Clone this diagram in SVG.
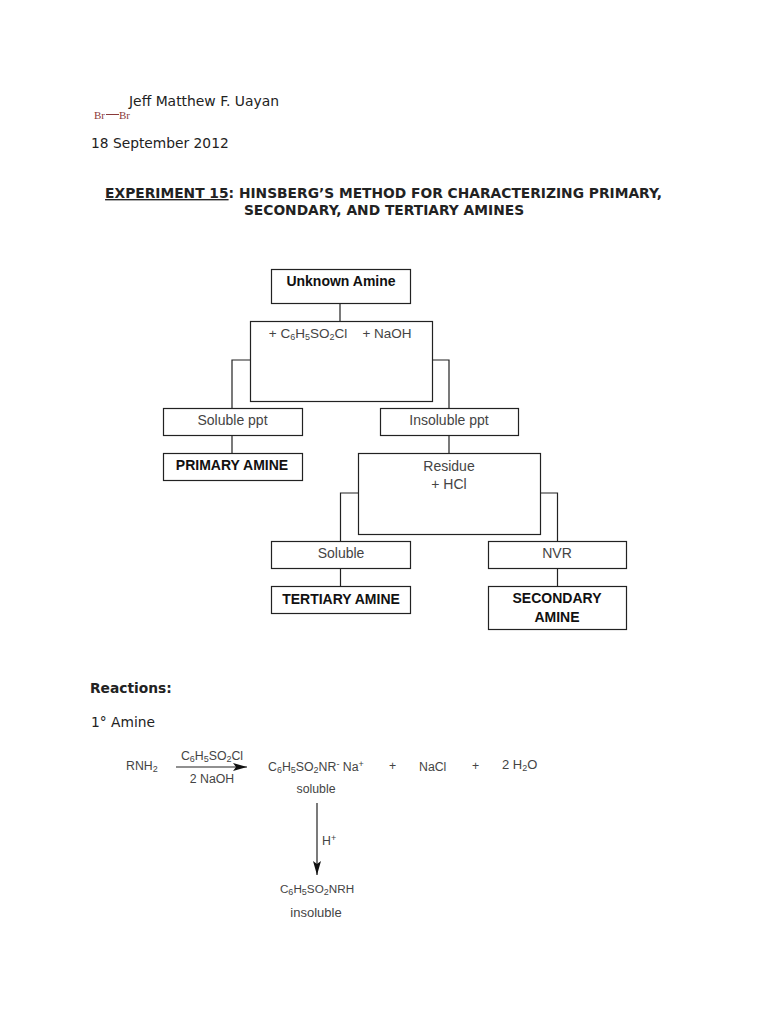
<svg xmlns="http://www.w3.org/2000/svg" width="768" height="1024" viewBox="0 0 768 1024">
<style>
.doc{font-family:"DejaVu Sans",sans-serif;font-size:13.800px;fill:#222}
.name{font-size:13.900px}
.title{font-family:"DejaVu Sans",sans-serif;font-size:13.800px;font-weight:bold;fill:#222;text-anchor:middle}
.box{fill:#fff;stroke:#222;stroke-width:1.2}
.lbl{font-family:"Liberation Sans",Arial,sans-serif;font-size:14px;fill:#444;text-anchor:middle}
.rg{font-size:13.500px}
.bld{font-family:"Liberation Sans",Arial,sans-serif;font-size:14px;font-weight:bold;fill:#111;text-anchor:middle}
.chem{font-family:"Liberation Sans",Arial,sans-serif;font-size:12.300px;fill:#444}
.sm{font-size:11.700px}
.big{font-size:13px}
.mid{text-anchor:middle}
.conn{fill:none;stroke:#222;stroke-width:1.2}
</style>
<defs>
<marker id="ah" markerUnits="userSpaceOnUse" markerWidth="15" markerHeight="10" refX="14" refY="5" orient="auto"><path d="M0 1L14 5L0 9L3 5Z" fill="#111"/></marker>
</defs>
<rect width="768" height="1024" fill="#fff"/>
<text class="doc name" x="129" y="106">Jeff Matthew F. Uayan</text>
<text x="94" y="119" font-family="Liberation Serif,serif" font-size="11" fill="#8b3a3a">Br</text>
<path d="M106 114.500H119" stroke="#8b3a3a" stroke-width="1"/>
<text x="119" y="119" font-family="Liberation Serif,serif" font-size="11" fill="#8b3a3a">Br</text>
<text class="doc" x="91" y="148">18 September 2012</text>
<text class="title" x="383.500" y="198"><tspan text-decoration="underline">EXPERIMENT 15</tspan>: HINSBERG’S METHOD FOR CHARACTERIZING PRIMARY,</text>
<text class="title" x="384" y="215">SECONDARY, AND TERTIARY AMINES</text>
<g id="connectors">
<path class="conn" d="M340 303V321M250 360H232V408M432 360H449V408M232 435V453M449 435V453M358 493H340.500V541M541 493H557.500V541M340.500 568V586M557.500 568V586"/>
<path class="conn" stroke-width="1.500" d="M176 767H247" marker-end="url(#ah)"/>
<path class="conn" stroke-width="1.500" d="M317 803V875" marker-end="url(#ah)"/>
</g>
<g id="unknown"><rect class="box" x="271.500" y="269.500" width="139" height="34"/><text class="bld" x="341" y="286">Unknown Amine</text></g>
<g id="reagents"><rect class="box" x="250.500" y="321.500" width="182" height="80"/><text class="lbl rg" x="308" y="338">+ C<tspan font-size="9" dy="2">6</tspan><tspan dy="-2">H</tspan><tspan font-size="9" dy="2">5</tspan><tspan dy="-2">SO</tspan><tspan font-size="9" dy="2">2</tspan><tspan dy="-2">Cl</tspan></text><text class="lbl rg" x="387" y="338">+ NaOH</text></g>
<g id="soluble-ppt"><rect class="box" x="163.500" y="408.500" width="139" height="27"/><text class="lbl" x="232.500" y="425">Soluble ppt</text></g>
<g id="insoluble-ppt"><rect class="box" x="380.500" y="408.500" width="138" height="27"/><text class="lbl" x="449" y="425">Insoluble ppt</text></g>
<g id="primary"><rect class="box" x="163.500" y="453.500" width="139" height="27"/><text class="bld" x="232" y="470">PRIMARY AMINE</text></g>
<g id="residue"><rect class="box" x="358.500" y="453.500" width="182" height="81"/><text class="lbl" x="449" y="471">Residue</text><text class="lbl" x="449" y="489">+ HCl</text></g>
<g id="soluble"><rect class="box" x="271.500" y="541.500" width="139" height="27"/><text class="lbl" x="341" y="558">Soluble</text></g>
<g id="nvr"><rect class="box" x="488.500" y="541.500" width="138" height="27"/><text class="lbl" x="557" y="558">NVR</text></g>
<g id="tertiary"><rect class="box" x="271.500" y="586.500" width="139" height="27"/><text class="bld" x="341" y="604">TERTIARY AMINE</text></g>
<g id="secondary"><rect class="box" x="488.500" y="586.500" width="138" height="43"/><text class="bld" x="557" y="603">SECONDARY</text><text class="bld" x="557" y="622">AMINE</text></g>
<text class="doc" font-weight="bold" x="90" y="693">Reactions:</text>
<text class="doc" x="91" y="727">1° Amine</text>
<text class="chem" x="126" y="770">RNH<tspan font-size="9" dy="2">2</tspan></text>
<text class="chem mid" x="212" y="760">C<tspan font-size="9" dy="2">6</tspan><tspan dy="-2">H</tspan><tspan font-size="9" dy="2">5</tspan><tspan dy="-2">SO</tspan><tspan font-size="9" dy="2">2</tspan><tspan dy="-2">Cl</tspan></text>
<text class="chem mid" x="212" y="783">2 NaOH</text>
<text class="chem" x="268" y="771">C<tspan font-size="9" dy="2">6</tspan><tspan dy="-2">H</tspan><tspan font-size="9" dy="2">5</tspan><tspan dy="-2">SO</tspan><tspan font-size="9" dy="2">2</tspan><tspan dy="-2">NR</tspan><tspan font-size="9" dy="-4">-</tspan><tspan dy="4"> Na</tspan><tspan font-size="9" dy="-4">+</tspan></text>
<text class="chem mid" x="316" y="793">soluble</text>
<text class="chem" x="389" y="770">+</text>
<text class="chem" x="419" y="771">NaCl</text>
<text class="chem" x="472" y="770">+</text>
<text class="chem big" x="502" y="769">2 H<tspan font-size="9" dy="2">2</tspan><tspan dy="-2">O</tspan></text>
<text class="chem" x="322" y="845">H<tspan font-size="9" dy="-4">+</tspan></text>
<text class="chem sm mid" x="317" y="893">C<tspan font-size="9" dy="2">6</tspan><tspan dy="-2">H</tspan><tspan font-size="9" dy="2">5</tspan><tspan dy="-2">SO</tspan><tspan font-size="9" dy="2">2</tspan><tspan dy="-2">NRH</tspan></text>
<text class="chem big mid" x="316" y="917">insoluble</text>
</svg>
